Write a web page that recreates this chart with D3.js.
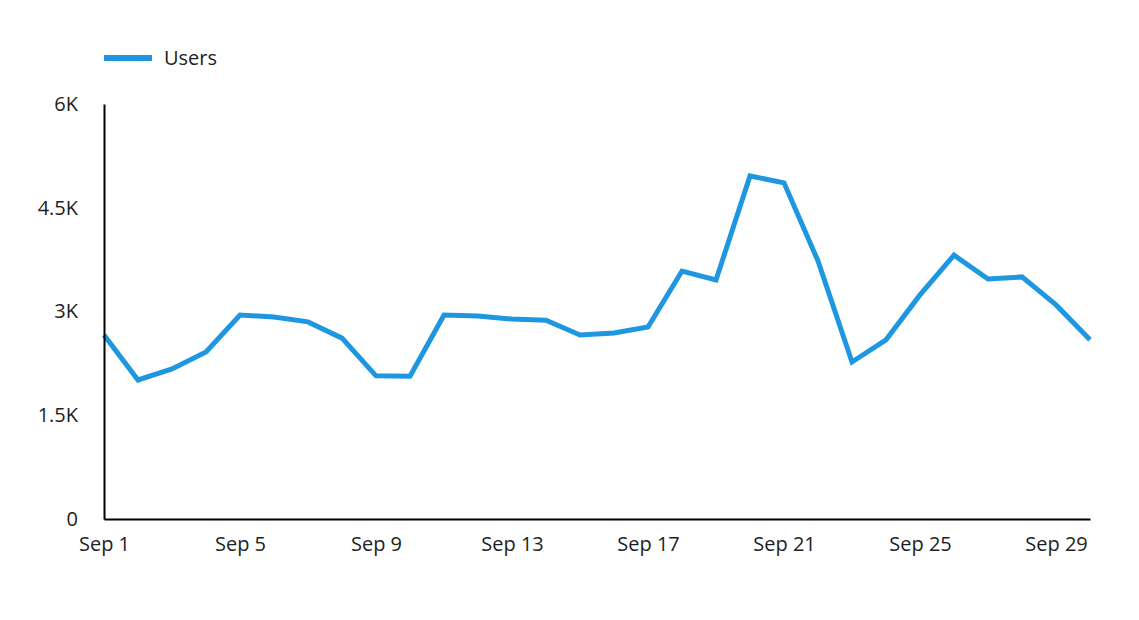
<!DOCTYPE html><html><head><meta charset="utf-8">
<script src="https://cdn.jsdelivr.net/npm/d3@7"></script>
<style>body{margin:0;background:#fff}text{font-family:"Open Sans",sans-serif}</style></head><body>
<svg id="c" width="1139" height="620"></svg>
<script>
const days = d3.range(1,31);
const users = [2660,2010,2170,2415,2950,2920,2850,2615,2070,2065,2950,2935,2890,2875,2660,2690,2775,3585,3455,4960,4860,3730,2270,2590,3240,3815,3470,3500,3095,2590];
const yTicks = [0,1500,3000,4500,6000];
const yLabels = ["0","1.5K","3K","4.5K","6K"];
const xTicks = [1,5,9,13,17,21,25,29];
const svg = d3.select("#c");
const x = d3.scaleLinear().domain([1,30]).range([104,1090]);
const y = d3.scaleLinear().domain([0,6000]).range([519,104]);
const col = "#1f97e0";
svg.append("path").datum(users).attr("fill","none").attr("stroke",col).attr("stroke-width",5).attr("stroke-linejoin","miter")
 .attr("d",d3.line().x((d,i)=>x(days[i])).y(d=>y(d)));
const ya = svg.append("g").attr("transform","translate(104,0)").call(d3.axisLeft(y).tickValues(yTicks).tickFormat((d,i)=>yLabels[i]).tickSize(0).tickPadding(26));
ya.select(".domain").attr("stroke","#000").attr("stroke-width",2);
ya.selectAll("text").attr("font-size",20).attr("fill","#222").attr("font-family","Open Sans");
const xa = svg.append("g").attr("transform","translate(0,519)").call(d3.axisBottom(x).tickValues(xTicks).tickFormat(d=>"Sep "+d).tickSize(0).tickPadding(18));
xa.select(".domain").attr("stroke","#000").attr("stroke-width",2);
xa.selectAll("text").attr("font-size",20).attr("fill","#222").attr("font-family","Open Sans");
svg.append("line").attr("x1",104).attr("x2",152).attr("y1",58).attr("y2",58).attr("stroke",col).attr("stroke-width",6);
svg.append("text").attr("x",164).attr("y",65).attr("font-size",20).attr("fill","#222").text("Users");
</script></body></html>
